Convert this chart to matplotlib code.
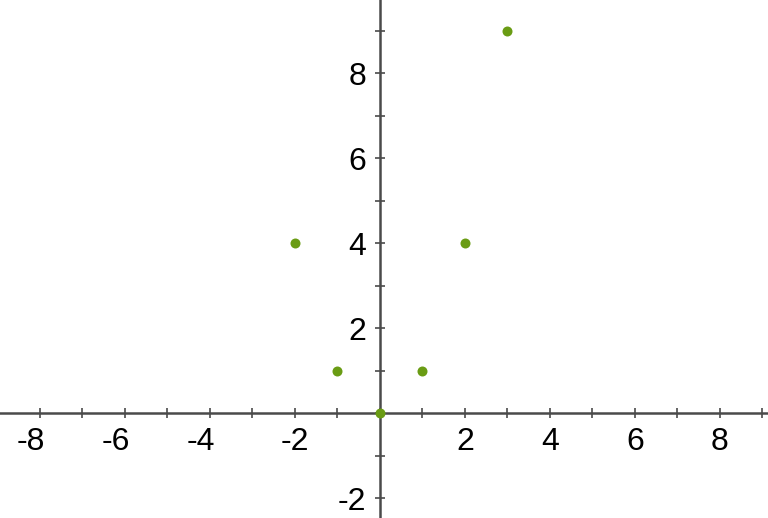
import matplotlib.pyplot as plt
from matplotlib.ticker import MultipleLocator

# ── Data ──────────────────────────────────────────────────────────────────────
x_vals = [-2, -1, 0, 1, 2, 3]
y_vals = [4, 1, 0, 1, 4, 9]
x_labels = [-8, -6, -4, -2, 2, 4, 6, 8]
y_labels = [-2, 2, 4, 6, 8]

plt.rcParams["font.family"] = ["Liberation Sans", "DejaVu Sans"]

fig = plt.figure(figsize=(7.68, 5.18), dpi=100)
ax = fig.add_axes([0, 0, 1, 1])

axis_color = "#4a4a4a"
for side in ["top", "right"]:
    ax.spines[side].set_visible(False)
for side in ["left", "bottom"]:
    ax.spines[side].set_position(("data", 0))
    ax.spines[side].set_color(axis_color)
    ax.spines[side].set_linewidth(1.8)

ax.set_xlim(-8.94, 9.13)
ax.set_ylim(-2.47, 9.72)

ax.xaxis.set_major_locator(MultipleLocator(1))
ax.yaxis.set_major_locator(MultipleLocator(1))
ax.tick_params(direction="inout", length=7, width=1.2, color=axis_color,
               labelbottom=False, labelleft=False)

# labels by hand (negative x labels sit slightly left of their tick)
for v in x_labels:
    dx = -9 if v < -2 else 0
    ax.annotate(str(v), xy=(v, 0), xytext=(dx, -14), textcoords="offset pixels",
                ha="center", va="top", fontsize=23, color="black")
for v in y_labels:
    ax.annotate(str(v), xy=(0, v), xytext=(-14, 0), textcoords="offset pixels",
                ha="right", va="center_baseline", fontsize=23, color="black")

ax.plot(x_vals, y_vals, "o", color="#6a9c14", markersize=7.2,
        markeredgewidth=0, zorder=5, clip_on=False)

plt.savefig("out.png", dpi=100)
